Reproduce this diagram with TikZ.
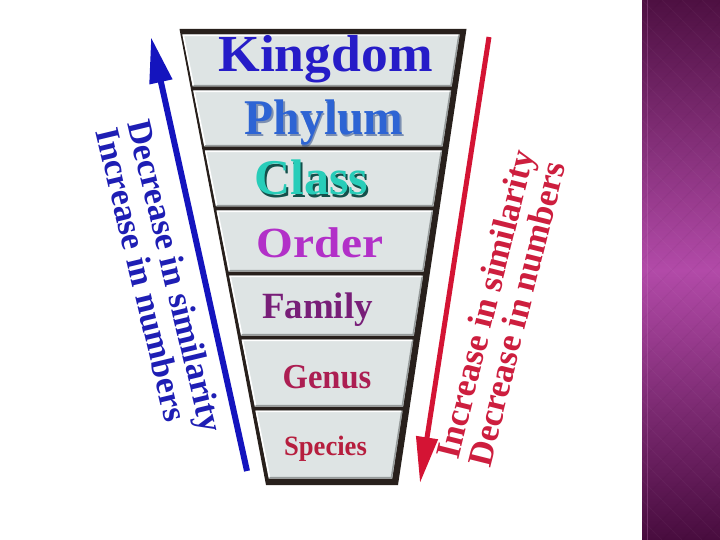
\documentclass[tikz,border=0pt]{standalone}
\usepackage{fontspec}
\setmainfont{Liberation Serif}
\usetikzlibrary{arrows.meta}
\definecolor{bandD}{RGB}{78,16,66}
\definecolor{bandL}{RGB}{178,74,168}
\definecolor{bandD2}{RGB}{72,12,62}
\definecolor{framec}{RGB}{40,32,28}
\definecolor{rowc}{RGB}{222,228,228}
\definecolor{rowdark}{RGB}{150,155,155}
\definecolor{kcol}{RGB}{38,28,200}
\definecolor{pcol}{RGB}{45,100,212}
\definecolor{ccol}{RGB}{40,205,185}
\definecolor{ccolsh}{RGB}{20,80,75}
\definecolor{ocol}{RGB}{178,48,200}
\definecolor{fcol}{RGB}{120,30,120}
\definecolor{gcol}{RGB}{172,30,82}
\definecolor{scol}{RGB}{182,30,62}
\definecolor{bluearr}{RGB}{20,20,190}
\definecolor{redarr}{RGB}{212,20,52}
\definecolor{lefttxtc}{RGB}{30,30,180}
\definecolor{righttxtc}{RGB}{205,30,62}
\begin{document}
\begin{tikzpicture}[x=1pt,y=-1pt,
  lbl/.style={anchor=base,inner sep=0pt,font=\bfseries},
  sidetxt/.style={align=left,inner sep=0pt}]
\useasboundingbox (0,0) rectangle (720,540);
\fill[white] (0,0) rectangle (720,540);
% purple band
\shade[top color=bandD, bottom color=bandD2, middle color=bandL] (642,0) rectangle (720,540);
\begin{scope}
  \clip (642,0) rectangle (720,540);
  \foreach \k in {-80,-60,...,620} {
    \draw[white,opacity=0.035,line width=0.8pt] (642,\k) -- ++(100,100);
    \draw[black,opacity=0.035,line width=0.8pt] (642,\k) -- ++(100,-100);
  }
  \draw[bandL!70!white,opacity=0.3,line width=0.8pt] (647,0) -- (647,540);
\end{scope}
% trapezoid frame
\fill[framec] (179.5,29) -- (466.5,29) -- (398,485) -- (266,485) -- cycle;
\foreach \ya/\yb in {32/88, 88/148, 148/208, 208/273, 273/337, 337/408, 408/480} {
  \pgfmathsetmacro\ta{\ya+2.5}
  \pgfmathsetmacro\tb{\yb-1.5}
  \pgfmathsetmacro\la{180+(\ta-32)/448*87+2}
  \pgfmathsetmacro\lb{180+(\tb-32)/448*87+2}
  \pgfmathsetmacro\ra{465-(\ta-32)/448*68-5}
  \pgfmathsetmacro\rb{465-(\tb-32)/448*68-5}
  \fill[rowc] (\la,\ta) -- (\ra,\ta) -- (\rb,\tb) -- (\lb,\tb) -- cycle;
  \draw[rowdark,line width=1.5pt] (\ra-0.8,\ta+1) -- (\rb-0.8,\tb-0.8) -- (\lb+1,\tb-0.8);
  \draw[white,line width=1.5pt] (\lb+0.8,\tb-1.5) -- (\la+0.8,\ta+0.8) -- (\ra-1.5,\ta+0.8);
}
% labels
\node[lbl,text=kcol] (kingdom) at (325.5,72) {\scalebox{1.03}[1]{\fontsize{52}{52}\selectfont Kingdom}};
\node[lbl,text=pcol!60!black,opacity=0.5] (phylumsh) at (325.5,136.5) {\scalebox{0.95}[1]{\fontsize{50}{50}\selectfont Phylum}};
\node[lbl,text=pcol] (phylum) at (324,135) {\scalebox{0.95}[1]{\fontsize{50}{50}\selectfont Phylum}};
\node[lbl,text=ccolsh] (classsh) at (313,197) {\fontsize{50}{50}\selectfont Class};
\node[lbl,text=ccol] (class) at (311,195) {\fontsize{50}{50}\selectfont Class};
\node[lbl,text=ocol] (order) at (320,257) {\scalebox{1.1}[1]{\fontsize{43}{43}\selectfont Order}};
\node[lbl,text=fcol] (family) at (317.5,318) {\fontsize{37}{37}\selectfont Family};
\node[lbl,text=gcol] (genus) at (327,388) {\scalebox{0.93}[1]{\fontsize{35}{35}\selectfont Genus}};
\node[lbl,text=scol] (species) at (325.5,455) {\scalebox{0.95}[1]{\fontsize{28}{28}\selectfont Species}};
% arrows
\coordinate (btail) at (247,471);
\coordinate (bhead) at (151,37);
\draw[bluearr,line width=6pt,-{Triangle[length=46pt,width=22pt]}] (btail) -- (bhead);
\coordinate (rtail) at (489,37);
\coordinate (rhead) at (420,483);
\draw[redarr,line width=5pt,-{Triangle[length=46pt,width=21pt]}] (rtail) -- (rhead);
% side texts
\node[sidetxt,rotate=-76.5,text=lefttxtc,font=\fontsize{34.5}{27}\selectfont\bfseries] (lefttxt) at (160,280) {Decrease in similarity\\Increase in numbers};
\node[sidetxt,rotate=76,text=righttxtc,font=\fontsize{35}{27}\selectfont\bfseries] (righttxt) at (501,308) {Increase in similarity\\Decrease in numbers};
\end{tikzpicture}
\end{document}
